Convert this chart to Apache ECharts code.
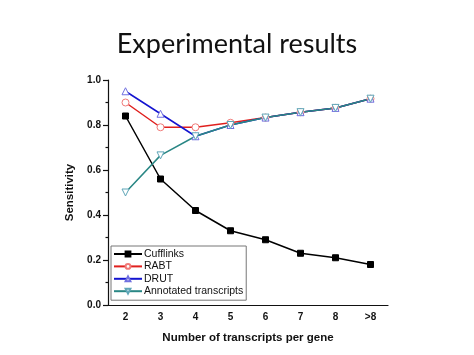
<!DOCTYPE html>
<html>
<head>
<meta charset="utf-8">
<script src="https://cdn.jsdelivr.net/npm/echarts@6/dist/echarts.min.js"></script>
<style>html,body{margin:0;padding:0;background:#fff;}#c{width:474px;height:355px;}</style>
</head>
<body>
<div id="c"></div>
<script>
var categories = ['2', '3', '4', '5', '6', '7', '8', '>8'];
var cufflinks = [0.84, 0.56, 0.42, 0.33, 0.29, 0.23, 0.21, 0.18];
var rabt = [0.90, 0.79, 0.79, 0.81, 0.833, 0.857, 0.876, 0.917];
var drut = [0.95, 0.85, 0.75, 0.80, 0.833, 0.857, 0.876, 0.917];
var annotated = [0.50, 0.665, 0.75, 0.80, 0.833, 0.857, 0.876, 0.917];
var yTicks = { min: 0, max: 1, interval: 0.2 };

var chart = echarts.init(document.getElementById('c'));
var fontBase = 'Liberation Sans, Arial, sans-serif';
function mk(name, data, color, symbol, symColor, filled) {
  return {
    name: name, type: 'line', data: data, xAxisIndex: 0,
    symbol: symbol, symbolSize: filled ? 6 : 7,
    showAllSymbol: true,
    lineStyle: { color: color, width: 1.5 },
    itemStyle: { color: filled ? color : '#ffffff', borderColor: symColor, borderWidth: 1 },
    emphasis: { disabled: true },
    animation: false
  };
}
chart.setOption({
  animation: false,
  backgroundColor: '#fff',
  title: {
    text: 'Experimental results', left: 'center', top: 26,
    textStyle: { fontFamily: 'Lato, Carlito, sans-serif', fontSize: 27, fontWeight: 'normal', color: '#111' }
  },
  grid: { left: 108, right: 86, top: 80, bottom: 50, containLabel: false },
  legend: {
    orient: 'vertical', left: 111, top: 246,
    borderColor: '#777', borderWidth: 1, padding: [2, 3, 3, 2],
    itemWidth: 28, itemHeight: 6, itemGap: 0.4,
    textStyle: { fontFamily: fontBase, fontSize: 10.5, lineHeight: 12, color: '#111', padding: [0, 0, 0, -3] },
    data: ['Cufflinks', 'RABT', 'DRUT', 'Annotated transcripts']
  },
  xAxis: [{
    type: 'category', data: categories, boundaryGap: true,
    name: 'Number of transcripts per gene', nameLocation: 'middle', nameGap: 27,
    nameTextStyle: { fontFamily: fontBase, fontSize: 11.5, fontWeight: 'bold', color: '#111' },
    axisLine: { lineStyle: { color: '#111', width: 1.2 } },
    axisTick: { alignWithLabel: true, length: 4, lineStyle: { color: '#111', width: 1.2 } },
    axisLabel: { fontFamily: fontBase, fontSize: 10, fontWeight: 'bold', color: '#111', margin: 7 },
    splitLine: { show: false }
  }, {
    type: 'category', data: categories, boundaryGap: true, position: 'bottom',
    axisLine: { show: false },
    axisTick: { length: 2.5, lineStyle: { color: '#111', width: 1.2 } },
    axisLabel: { show: false },
    splitLine: { show: false }
  }],
  yAxis: {
    type: 'value', min: yTicks.min, max: yTicks.max, interval: yTicks.interval,
    name: 'Sensitivity', nameLocation: 'middle', nameGap: 31, nameRotate: 90,
    nameTextStyle: { fontFamily: fontBase, fontSize: 11.5, fontWeight: 'bold', color: '#111' },
    axisLine: { show: true, lineStyle: { color: '#111', width: 1.2 } },
    axisTick: { show: true, length: 5, lineStyle: { color: '#111', width: 1.2 } },
    minorTick: { show: true, splitNumber: 2, length: 2.5, lineStyle: { color: '#111', width: 1.2 } },
    axisLabel: { fontFamily: fontBase, fontSize: 10, fontWeight: 'bold', color: '#111', margin: 7,
      formatter: function (v) { return v.toFixed(1); } },
    splitLine: { show: false }
  },
  series: [
    mk('Cufflinks', cufflinks, '#000000', 'rect', '#000000', true),
    mk('RABT', rabt, '#e0201e', 'circle', '#f07a78', false),
    mk('DRUT', drut, '#1414d0', 'triangle', '#7070e0', false),
    mk('Annotated transcripts', annotated, '#2a8785', 'path://M0,0 L10,0 L5,9 Z', '#5fa6b8', false)
  ]
});
</script>
</body>
</html>
